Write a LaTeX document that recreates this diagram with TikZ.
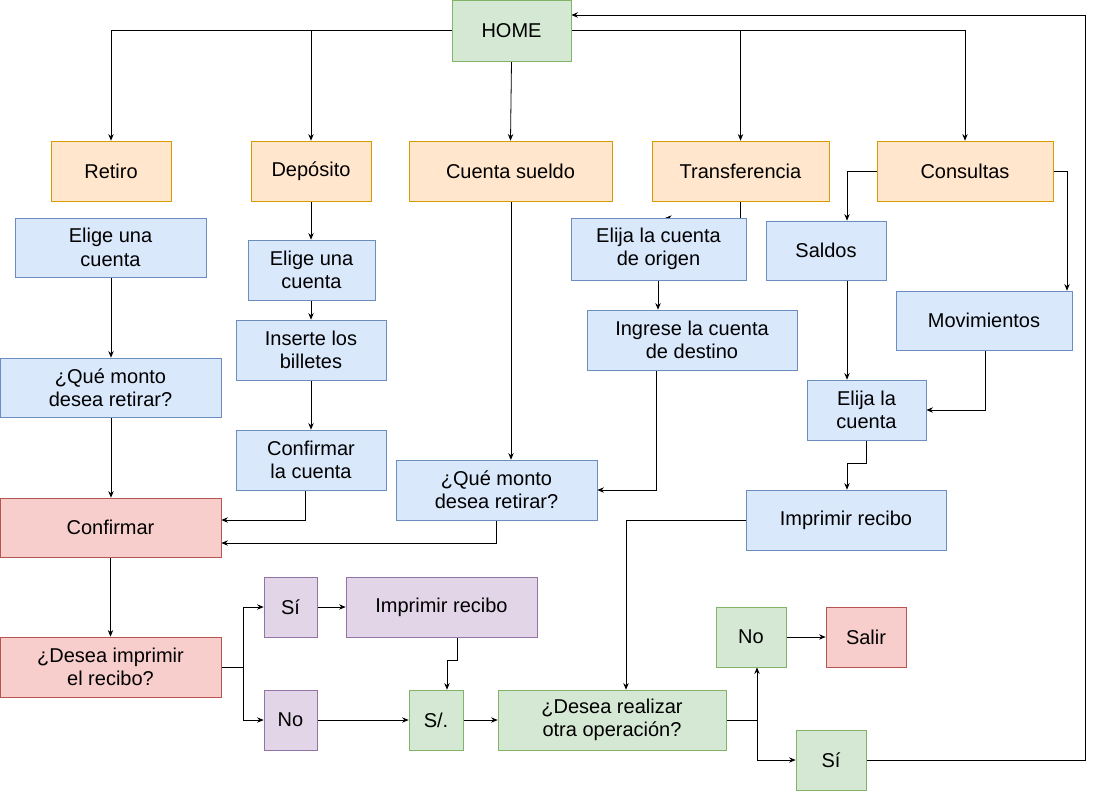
\documentclass[tikz,border=0pt]{standalone}
\usepackage{fontspec}
\setmainfont{Liberation Sans}
\usetikzlibrary{arrows.meta}
\pgfdeclarelayer{bg}\pgfsetlayers{bg,main}
\begin{document}
\begin{tikzpicture}[x=0.75pt,y=-0.75pt,
 bx/.style={draw,inner sep=0pt,align=center,font=\fontsize{15}{17.5}\selectfont},
 gr/.style={bx,fill=green!0!white,fill={rgb,255:red,213;green,232;blue,212},draw={rgb,255:red,130;green,179;blue,102}},
 og/.style={bx,fill={rgb,255:red,255;green,230;blue,204},draw={rgb,255:red,215;green,155;blue,0}},
 bl/.style={bx,fill={rgb,255:red,218;green,232;blue,252},draw={rgb,255:red,108;green,142;blue,191}},
 rd/.style={bx,fill={rgb,255:red,248;green,206;blue,204},draw={rgb,255:red,184;green,84;blue,80}},
 pu/.style={bx,fill={rgb,255:red,225;green,213;blue,231},draw={rgb,255:red,150;green,115;blue,166}},
 ar/.style={-{Stealth[length=5pt,width=4pt]},line width=0.6pt}]
\useasboundingbox (0,0) rectangle (1101,797);
\newcommand{\bxn}[7]{\node[#1,minimum width={(#5-#3)*0.75pt},minimum height={(#6-#4)*0.75pt}] (#2) at ({(#3+#5)/2},{(#4+#6)/2}) {#7};}
\bxn{gr}{home}{452}{0}{571}{61}{HOME}
\bxn{og}{ret}{51}{141}{171}{201}{Retiro}
\bxn{og}{dep}{251}{141}{371}{201}{Depósito}
\bxn{og}{cs}{409}{141}{612}{201}{Cuenta sueldo}
\bxn{og}{tr}{652}{141}{829}{201}{Transferencia}
\bxn{og}{con}{877}{141}{1053}{201}{Consultas}
\bxn{bl}{r1}{15}{218}{206}{277}{Elige una\\cuenta}
\bxn{bl}{r2}{0}{358}{221}{417}{¿Qué monto\\desea retirar?}
\bxn{rd}{conf}{0}{498}{221}{557}{Confirmar}
\bxn{rd}{imp}{0}{637}{221}{697}{¿Desea imprimir\\el recibo?}
\bxn{bl}{d1}{248}{240}{375}{300}{Elige una\\cuenta}
\bxn{bl}{d2}{236}{320}{386}{380}{Inserte los\\billetes}
\bxn{bl}{d3}{236}{430}{386}{490}{Confirmar\\la cuenta}
\bxn{bl}{c1}{396}{460}{597}{520}{¿Qué monto\\desea retirar?}
\bxn{bl}{t1}{571}{218}{746}{280}{Elija la cuenta\\de origen}
\bxn{bl}{t2}{587}{310}{797}{370}{Ingrese la cuenta\\de destino}
\bxn{bl}{sal}{766}{221}{886}{280}{Saldos}
\bxn{bl}{mov}{896}{291}{1072}{350}{Movimientos}
\bxn{bl}{ec}{807}{380}{926}{440}{Elija la\\cuenta}
\bxn{bl}{ir}{746}{490}{946}{550}{Imprimir recibo}
\bxn{pu}{si1}{264}{577}{317}{637}{Sí}
\bxn{pu}{ir2}{346}{577}{537}{637}{Imprimir recibo}
\bxn{pu}{no1}{264}{690}{317}{750}{No}
\bxn{gr}{sol}{409}{690}{463}{750}{S/.}
\bxn{gr}{otra}{498}{690}{726}{750}{¿Desea realizar\\otra operación?}
\bxn{gr}{no2}{716}{607}{786}{667}{No}
\bxn{rd}{salir}{826}{607}{906}{667}{Salir}
\bxn{gr}{si2}{796}{730}{866}{790}{Sí}
\begin{pgfonlayer}{bg}
\draw[ar] (home.west) -| (ret.north);
\draw[ar] (home.west) -| (dep.north);
\draw[ar] (home.south) -- (cs.north);
\draw[ar] (home.east) -| (tr.north);
\draw[ar] (home.east) -| (con.north);
\draw[ar] (si2.east) -- (1085,760) -- (1085,15) -- (home.east|-0,15);
\draw[ar] (r1.south-|111,0) -- (r2.north-|111,0);
\draw[ar] (r2.south-|111,0) -- (conf.north-|111,0);
\draw[ar] (conf) -- (imp);
\draw[ar] (imp.east) -- (243,667) |- (si1.west);
\draw[ar] (imp.east) -- (243,667) |- (no1.west);
\draw[ar] (dep.south-|311,0) -- (d1.north-|311,0);
\draw[ar] (d1.south-|311,0) -- (d2.north-|311,0);
\draw[ar] (d2.south-|311,0) -- (d3.north-|311,0);
\draw[ar] (d3.south-|305,0) -- (305,520) -- (conf.east|-0,520);
\draw[ar] (c1.south-|496,0) -- (496,543) -- (conf.east|-0,543);
\draw[ar] (cs.south-|511,0) -- (c1.north-|511,0);
\draw[ar] (tr.south-|740,0) -- (740,218) -- (665,218);
\draw[ar] (t1.south-|658,0) -- (t2.north-|658,0);
\draw[ar] (t2.south-|656,0) -- (656,490) -- (c1.east|-0,490);
\draw[ar] (con.west) -- (847,171) -- (sal.north-|847,0);
\draw[ar] (con.east) -- (1067,171) -- (mov.north-|1067,0);
\draw[ar] (sal.south-|847,0) -- (ec.north-|847,0);
\draw[ar] (mov.south-|985,0) -- (985,410) -- (ec.east|-0,410);
\draw[ar] (ec.south-|866,0) -- (866,463) -- (847,463) -- (ir.north-|847,0);
\draw[ar] (ir.west) -- (626,520) -- (otra.north-|626,0);
\draw[ar] (si1) -- (ir2);
\draw[ar] (ir2.south-|457,0) -- (457,660) -- (447,660) -- (sol.north-|447,0);
\draw[ar] (no1) -- (sol);
\draw[ar] (sol) -- (otra);
\draw[ar] (otra.east) -- (757,720) -- (no2.south-|757,0);
\draw[ar] (otra.east) -- (757,720) |- (si2.west);
\draw[ar] (no2) -- (salir);
\end{pgfonlayer}
\end{tikzpicture}
\end{document}
